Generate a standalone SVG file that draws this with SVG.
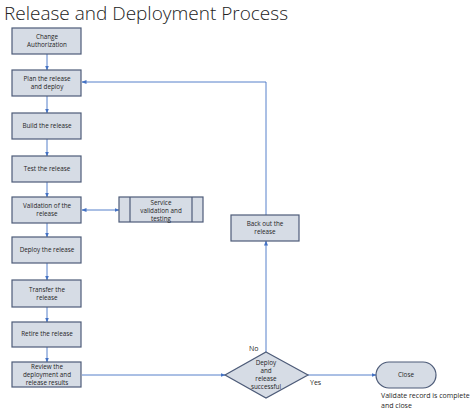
<svg xmlns="http://www.w3.org/2000/svg" width="474" height="411" viewBox="0 0 474 411">
<defs>
<marker id="ah" viewBox="0 0 10 10" refX="9" refY="5" markerWidth="5" markerHeight="5" orient="auto-start-reverse" markerUnits="userSpaceOnUse">
<path d="M0,1 L10,5 L0,9 z" fill="#4472c4"/>
</marker>
<style>
.box{fill:#d6dce5;stroke:#4d5b78;stroke-width:1.2}
.t{font-family:"Open Sans","Liberation Sans",sans-serif;font-size:6.3px;fill:#1f1f1f;text-anchor:middle}
.c{fill:none;stroke:#4472c4;stroke-width:0.9}
.lbl{font-family:"Open Sans","Liberation Sans",sans-serif;font-size:7px;fill:#1f1f1f}
</style>
</defs>
<rect width="474" height="411" fill="#ffffff"/>
<text x="4" y="20" font-family="'Open Sans','Liberation Sans',sans-serif" font-weight="300" font-size="18.5" fill="#222" textLength="284" lengthAdjust="spacingAndGlyphs">Release and Deployment Process</text>

<g id="connectors">
<path class="c" d="M47,54 V70" marker-end="url(#ah)"/>
<path class="c" d="M47,96 V113" marker-end="url(#ah)"/>
<path class="c" d="M47,139 V156" marker-end="url(#ah)"/>
<path class="c" d="M47,182 V197" marker-end="url(#ah)"/>
<path class="c" d="M47,223 V237" marker-end="url(#ah)"/>
<path class="c" d="M47,263 V280" marker-end="url(#ah)"/>
<path class="c" d="M47,307 V322" marker-end="url(#ah)"/>
<path class="c" d="M47,347 V362" marker-end="url(#ah)"/>
<path class="c" d="M82,210 H119" marker-start="url(#ah)" marker-end="url(#ah)"/>
<path class="c" d="M82,375 H225" marker-end="url(#ah)"/>
<path class="c" d="M308,375 H376" marker-end="url(#ah)"/>
<path class="c" d="M266,352 V241" marker-end="url(#ah)"/>
<path class="c" d="M266,215 V82 H82" marker-end="url(#ah)"/>
</g>

<g id="n-change"><rect class="box" x="12" y="28" width="69" height="26"/><text class="t" x="47" y="39">Change</text><text class="t" x="47" y="47">Authorization</text></g>
<g id="n-plan"><rect class="box" x="12" y="70" width="69" height="26"/><text class="t" x="47" y="81">Plan the release</text><text class="t" x="47" y="89">and deploy</text></g>
<g id="n-build"><rect class="box" x="12" y="113" width="69" height="26"/><text class="t" x="47" y="128">Build the release</text></g>
<g id="n-test"><rect class="box" x="12" y="156" width="69" height="26"/><text class="t" x="47" y="171">Test the release</text></g>
<g id="n-validation"><rect class="box" x="12" y="197" width="69" height="26"/><text class="t" x="47" y="208">Validation of the</text><text class="t" x="47" y="216">release</text></g>
<g id="n-service"><rect class="box" x="119" y="197" width="84" height="25"/><line x1="130" y1="197" x2="130" y2="222" stroke="#4d5b78" stroke-width="1.2"/><line x1="192" y1="197" x2="192" y2="222" stroke="#4d5b78" stroke-width="1.2"/><text class="t" x="161" y="205">Service</text><text class="t" x="161" y="213">validation and</text><text class="t" x="161" y="221">testing</text></g>
<g id="n-deploy"><rect class="box" x="12" y="237" width="69" height="26"/><text class="t" x="47" y="252">Deploy the release</text></g>
<g id="n-transfer"><rect class="box" x="12" y="280" width="69" height="27"/><text class="t" x="47" y="292">Transfer the</text><text class="t" x="47" y="300">release</text></g>
<g id="n-retire"><rect class="box" x="12" y="322" width="69" height="25"/><text class="t" x="47" y="336">Retire the release</text></g>
<g id="n-review"><rect class="box" x="12" y="362" width="69" height="25"/><text class="t" x="47" y="369">Review the</text><text class="t" x="47" y="377">deployment and</text><text class="t" x="47" y="385">release results</text></g>
<g id="n-backout"><rect class="box" x="231" y="215" width="68" height="26"/><text class="t" x="265" y="226">Back out the</text><text class="t" x="265" y="234">release</text></g>
<g id="n-decision"><polygon class="box" points="266,352 308,375 266,398 225,375"/><text class="t" x="266" y="365">Deploy</text><text class="t" x="266" y="373">and</text><text class="t" x="266" y="381">release</text><text class="t" x="266" y="389">successful</text></g>
<g id="n-close"><rect class="box" x="376" y="362" width="60" height="26" rx="13" ry="13"/><text class="t" x="406" y="377">Close</text></g>

<text class="lbl" x="249" y="351">No</text>
<text class="lbl" x="310" y="385">Yes</text>
<text class="lbl" x="381" y="398">Validate record is complete</text>
<text class="lbl" x="381" y="408">and close</text>
</svg>
